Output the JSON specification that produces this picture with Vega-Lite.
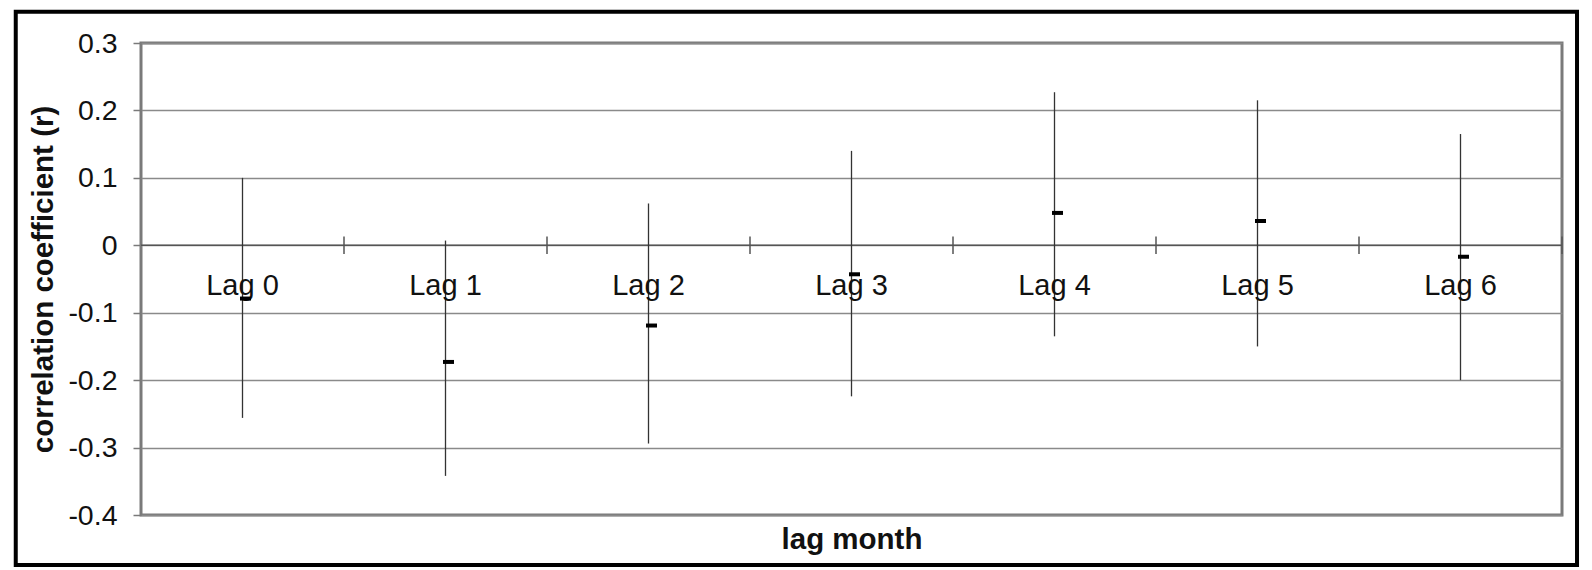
{
  "$schema": "https://vega.github.io/schema/vega-lite/v6.json",
  "autosize": {"type": "none"},
  "padding": {"left": 141, "top": 43, "right": 30, "bottom": 55},
  "width": 1421,
  "height": 472,
  "background": "white",
  "config": {
    "font": "Liberation Sans",
    "view": {"stroke": "#7a7a7a", "strokeWidth": 3}
  },
  "datasets": {
    "lags": [
      {"lag": 0, "label": "Lag 0", "r": -0.079, "lo": -0.256, "hi": 0.100},
      {"lag": 1, "label": "Lag 1", "r": -0.173, "lo": -0.342, "hi": 0.007},
      {"lag": 2, "label": "Lag 2", "r": -0.119, "lo": -0.294, "hi": 0.062},
      {"lag": 3, "label": "Lag 3", "r": -0.043, "lo": -0.224, "hi": 0.140},
      {"lag": 4, "label": "Lag 4", "r": 0.048, "lo": -0.135, "hi": 0.227},
      {"lag": 5, "label": "Lag 5", "r": 0.036, "lo": -0.150, "hi": 0.215},
      {"lag": 6, "label": "Lag 6", "r": -0.017, "lo": -0.200, "hi": 0.165}
    ],
    "catticks": [
      {"pos": 0.5}, {"pos": 1.5}, {"pos": 2.5}, {"pos": 3.5}, {"pos": 4.5}, {"pos": 5.5}, {"pos": 6.5}
    ]
  },
  "layer": [
    {
      "data": {"values": [{"k": 1}]},
      "mark": {"type": "rect", "fill": "transparent", "stroke": "black", "strokeWidth": 4, "clip": false},
      "encoding": {
        "x": {"datum": -1.117, "type": "quantitative"},
        "x2": {"datum": 6.574},
        "y": {"datum": 0.3464, "type": "quantitative"},
        "y2": {"datum": -0.4742}
      }
    },
    {
      "data": {"values": [{"k": 0}]},
      "mark": {"type": "rule", "color": "#555555", "strokeWidth": 1.5},
      "encoding": {
        "y": {"datum": 0, "type": "quantitative"}
      }
    },
    {
      "data": {"name": "catticks"},
      "mark": {"type": "rule", "color": "#555555", "strokeWidth": 1.5},
      "encoding": {
        "x": {"field": "pos", "type": "quantitative"},
        "y": {"datum": -0.013, "type": "quantitative"},
        "y2": {"datum": 0.013}
      }
    },
    {
      "data": {"name": "lags"},
      "mark": {"type": "rule", "color": "#333333", "strokeWidth": 1.3},
      "encoding": {
        "x": {
          "field": "lag", "type": "quantitative",
          "scale": {"domain": [-0.5, 6.5], "nice": false, "zero": false},
          "axis": {
            "title": "lag month", "labels": false, "ticks": false, "domain": false, "grid": false,
            "titleFont": "Liberation Sans", "titleFontSize": 29.5, "titleFontWeight": "bold", "titleColor": "#111111",
            "titleBaseline": "alphabetic", "titleY": 33
          }
        },
        "y": {
          "field": "lo", "type": "quantitative",
          "scale": {"domain": [-0.4, 0.3], "nice": false, "zero": false},
          "axis": {
            "title": "correlation coefficient (r)",
            "values": [-0.4, -0.3, -0.2, -0.1, 0, 0.1, 0.2, 0.3],
            "labelExpr": "datum.value == 0 ? '0' : replace(format(datum.value, '.1f'), '\u2212', '-')",
            "labelFont": "Liberation Sans", "labelFontSize": 28.5, "labelColor": "#111111",
            "labelPadding": 16, "tickSize": 8, "tickColor": "#7a7a7a", "tickWidth": 1.5,
            "domain": false,
            "grid": true, "gridColor": "#8a8a8a", "gridWidth": 1.5,
            "titleFont": "Liberation Sans", "titleFontSize": 29.5, "titleFontWeight": "bold", "titleColor": "#111111",
            "titleAngle": -90, "titleBaseline": "alphabetic", "titleAlign": "center",
            "titleX": -89, "titleY": 236
          }
        },
        "y2": {"field": "hi"}
      }
    },
    {
      "data": {"name": "lags"},
      "mark": {"type": "text", "fontSize": 29, "font": "Liberation Sans", "color": "#111111", "baseline": "alphabetic", "align": "center", "dy": 50},
      "encoding": {
        "x": {"field": "lag", "type": "quantitative"},
        "y": {"datum": 0, "type": "quantitative"},
        "text": {"field": "label"}
      }
    },
    {
      "data": {"name": "lags"},
      "mark": {"type": "tick", "orient": "horizontal", "color": "black", "size": 11, "thickness": 4, "xOffset": 3, "opacity": 1},
      "encoding": {
        "x": {"field": "lag", "type": "quantitative"},
        "y": {"field": "r", "type": "quantitative"}
      }
    }
  ]
}
